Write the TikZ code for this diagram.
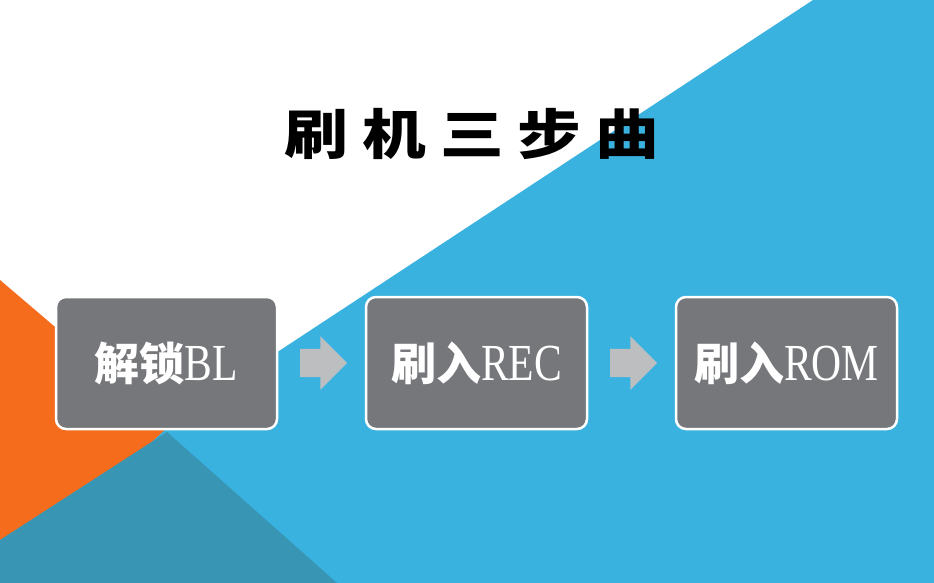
\documentclass[tikz,border=0pt]{standalone}
\usepackage{fontspec}
\setmainfont{Liberation Serif}
\newfontfamily\cjk{Noto Sans CJK SC}
\usetikzlibrary{shapes.arrows,calc}

\definecolor{skyblue}{RGB}{57,178,224}
\definecolor{deepteal}{RGB}{56,149,180}
\definecolor{tangerine}{RGB}{244,108,28}
\definecolor{boxgray}{RGB}{118,119,123}
\definecolor{arrowgray}{RGB}{189,190,192}

\newcommand{\steplabel}[2]{{\cjk\bfseries\fontsize{45}{45}\selectfont #1}%
  \scalebox{0.8}[1]{\fontsize{52}{52}\selectfont #2}}

\tikzset{
  stepbox/.style={rectangle, rounded corners=10pt, fill=boxgray, draw=white,
    line width=2.5pt, minimum width=221pt, minimum height=132pt, inner sep=0pt,
    text=white},
  flowarrow/.style={single arrow, fill=arrowgray, draw=none, inner sep=0pt,
    text width=0pt, text height=14pt, text depth=14pt,
    minimum height=47pt, minimum width=53pt, single arrow head extend=12.5pt,
    single arrow head indent=0pt, xshift=-5pt}
}

\begin{document}
\begin{tikzpicture}[x=1pt, y=-1pt]
    \useasboundingbox (0,0) rectangle (934,583);
    \clip (0,0) rectangle (934,583);

    % Background
    \fill[white] (0,0) rectangle (934,583);
    \fill[skyblue] (813,0) -- (934,0) -- (934,583) -- (-74,583) -- cycle;
    \fill[tangerine] (0,280) -- (170,425) -- (0,583) -- cycle;
    \fill[deepteal] (0,540) -- (167,432) -- (337,583) -- (0,583) -- cycle;

    % Title
    \node (title) at (472,134) {\scalebox{1.18}[1]{\cjk\bfseries\fontsize{54}{54}\selectfont
        刷\hspace{12pt}机\hspace{12pt}三\hspace{12pt}步\hspace{12pt}曲}};

    % Steps
    \node[stepbox] (unlock) at (166.5,363) {\steplabel{解锁}{BL}};
    \node[stepbox] (rec) at (476.5,363) {\steplabel{刷入}{REC}};
    \node[stepbox] (rom) at (786.5,363) {\steplabel{刷入}{ROM}};

    % Arrows between steps
    \node[flowarrow] (go1) at ($(unlock.east)!0.5!(rec.west)$) {};
    \node[flowarrow] (go2) at ($(rec.east)!0.5!(rom.west)$) {};
\end{tikzpicture}
\end{document}
